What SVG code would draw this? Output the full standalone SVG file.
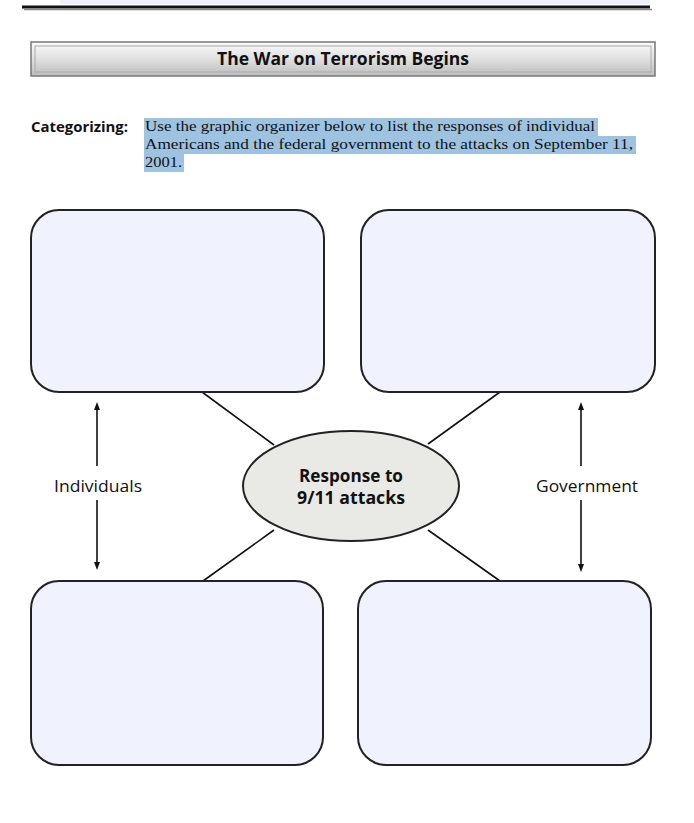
<svg xmlns="http://www.w3.org/2000/svg" width="694" height="823" viewBox="0 0 694 823">
<style>
.box{fill:#f0f2fd;stroke:#222;stroke-width:2}
.con{stroke:#111;stroke-width:1.6;fill:none}
.lbl{font-family:"Open Sans","DejaVu Sans",sans-serif;font-size:17px;fill:#111;text-anchor:middle}
.body{font-family:"Liberation Serif",serif;font-size:15.5px;fill:#111}
.hl{fill:#9dc3e0}
</style>
<defs>
<linearGradient id="g" x1="0" y1="0" x2="0" y2="1"><stop offset="0" stop-color="#fafafa"/><stop offset="0.5" stop-color="#e0e0e0"/><stop offset="1" stop-color="#bdbdbd"/></linearGradient>
<marker id="ah" markerWidth="8" markerHeight="8" refX="4" refY="4" orient="auto" markerUnits="userSpaceOnUse"><path d="M0,1 L8,4 L0,7 z" fill="#111"/></marker>
</defs>
<rect x="60" y="0" width="590" height="4" fill="#eef1fb"/>
<line x1="22" y1="7" x2="650" y2="7" stroke="#111" stroke-width="3"/>
<line x1="24" y1="9.5" x2="652" y2="9.5" stroke="#888" stroke-width="1.5"/>
<g id="title">
<rect x="31" y="42" width="624" height="34" fill="url(#g)" stroke="#777" stroke-width="1.5"/>
<rect x="35" y="46" width="616" height="26" fill="none" stroke="#aaa" stroke-width="1"/>
<text x="343" y="65" font-family="Open Sans, DejaVu Sans, sans-serif" font-size="17" font-weight="bold" text-anchor="middle" fill="#111" textLength="252" lengthAdjust="spacingAndGlyphs">The War on Terrorism Begins</text>
</g>
<g id="instructions">
<text x="31" y="132" font-family="Open Sans, DejaVu Sans, sans-serif" font-size="15" font-weight="bold" fill="#111" textLength="97" lengthAdjust="spacingAndGlyphs">Categorizing:</text>
<rect class="hl" x="144" y="118" width="454" height="18"/>
<rect class="hl" x="144" y="136" width="492" height="18"/>
<rect class="hl" x="144" y="154" width="40" height="18"/>
<text class="body" x="145" y="131" textLength="450" lengthAdjust="spacingAndGlyphs">Use the graphic organizer below to list the responses of individual</text>
<text class="body" x="145" y="149" textLength="488" lengthAdjust="spacingAndGlyphs">Americans and the federal government to the attacks on September 11,</text>
<text class="body" x="145" y="167" textLength="37" lengthAdjust="spacingAndGlyphs">2001.</text>
</g>
<g id="connectors">
<line class="con" x1="202" y1="392" x2="274" y2="445"/>
<line class="con" x1="500" y1="392" x2="428" y2="444"/>
<line class="con" x1="203" y1="581" x2="274" y2="530"/>
<line class="con" x1="500" y1="581" x2="428" y2="530"/>
<line class="con" x1="97" y1="466" x2="97" y2="406" marker-end="url(#ah)"/>
<line class="con" x1="97" y1="500" x2="97" y2="566" marker-end="url(#ah)"/>
<line class="con" x1="581" y1="466" x2="581" y2="406" marker-end="url(#ah)"/>
<line class="con" x1="581" y1="500" x2="581" y2="568" marker-end="url(#ah)"/>
</g>
<g id="box-tl"><rect class="box" x="31" y="210" width="293" height="182" rx="28"/></g>
<g id="box-tr"><rect class="box" x="361" y="210" width="294" height="182" rx="28"/></g>
<g id="box-bl"><rect class="box" x="31" y="581" width="292" height="184" rx="28"/></g>
<g id="box-br"><rect class="box" x="358" y="581" width="293" height="184" rx="28"/></g>
<g id="center">
<ellipse cx="351" cy="486" rx="108" ry="55" fill="#e9e9e6" stroke="#222" stroke-width="2"/>
<text class="lbl" x="351" y="482" font-weight="bold" textLength="104" lengthAdjust="spacingAndGlyphs">Response to</text>
<text class="lbl" x="351" y="504" font-weight="bold" textLength="108" lengthAdjust="spacingAndGlyphs">9/11 attacks</text>
</g>
<g id="label-individuals"><text class="lbl" x="98" y="492" textLength="88" lengthAdjust="spacingAndGlyphs">Individuals</text></g>
<g id="label-government"><text class="lbl" x="587" y="492" textLength="102" lengthAdjust="spacingAndGlyphs">Government</text></g>
</svg>
